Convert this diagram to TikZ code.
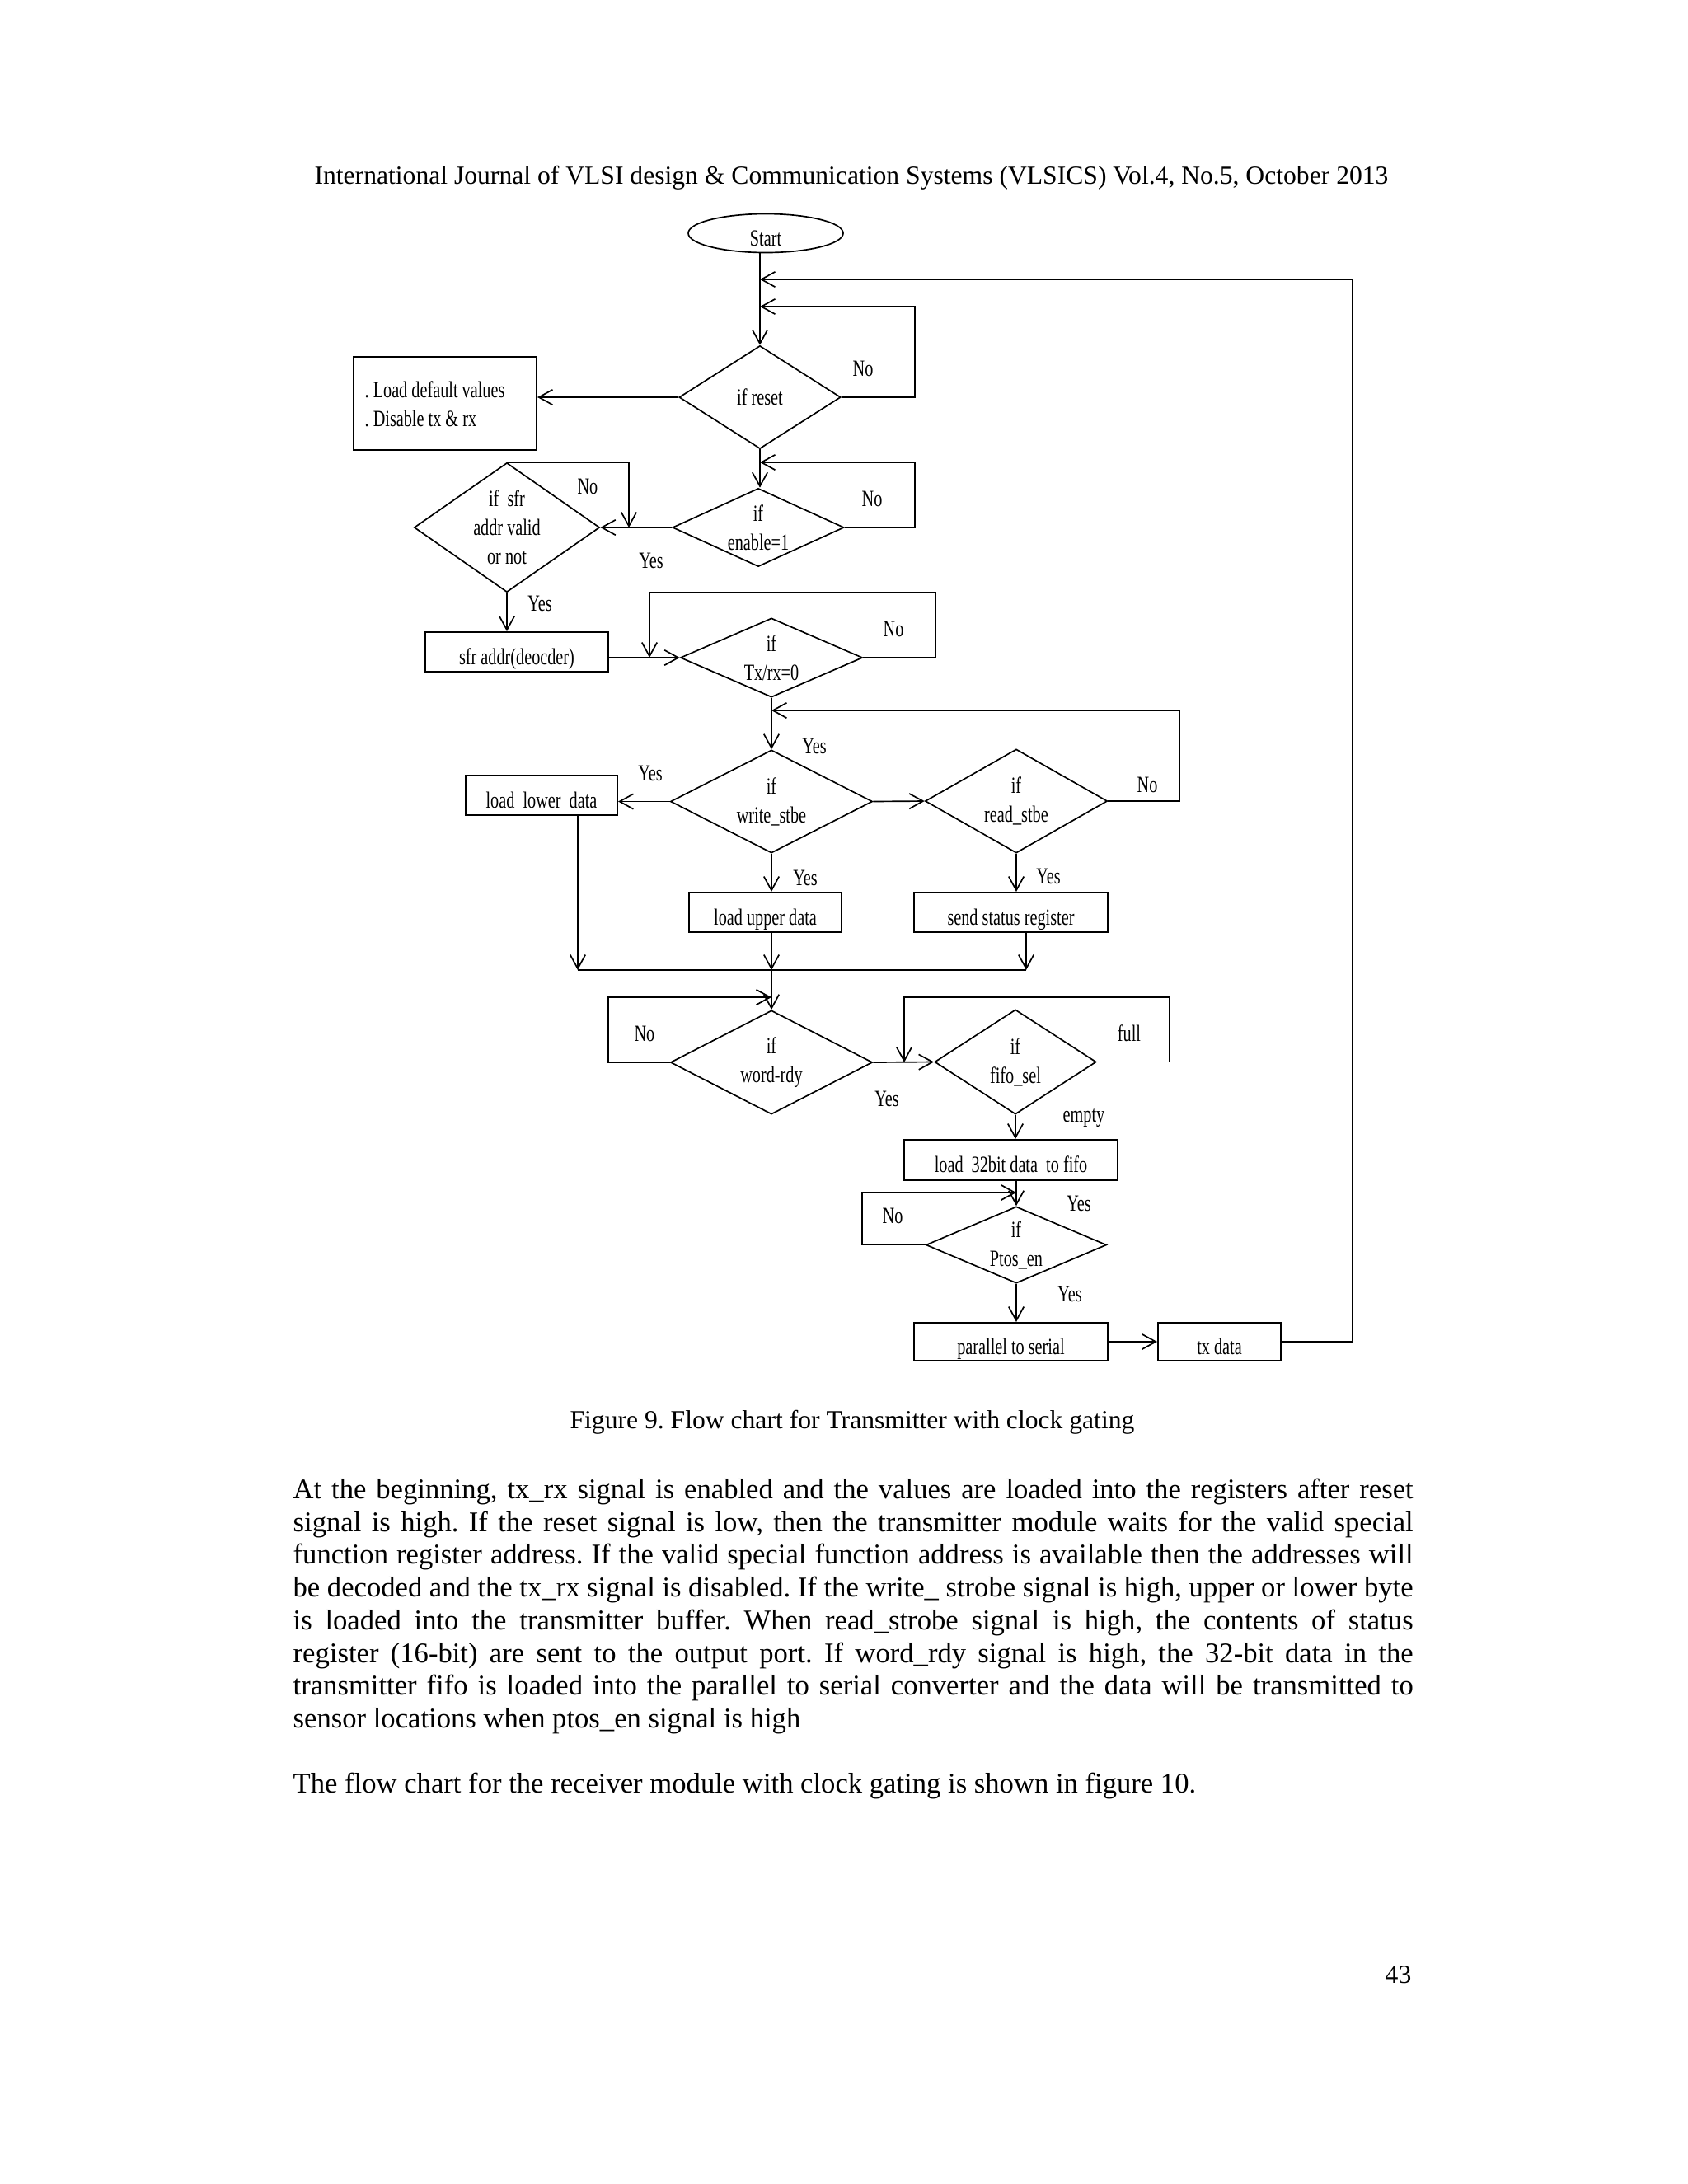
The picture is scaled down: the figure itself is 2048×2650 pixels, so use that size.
\documentclass[tikz,border=0pt]{standalone}
\usepackage{fontspec}
\setmainfont{Liberation Serif}
\newfontfamily\chartfont[FakeStretch=0.72]{Liberation Serif}
\usetikzlibrary{shapes.geometric,arrows.meta}
\frenchspacing
\newcommand\un{0.29883pt}
\tikzset{
  chart/.style={font=\chartfont\fontsize{8.4}{10.5}\selectfont},
  box/.style={draw, line width=0.6pt, inner sep=0pt, chart},
  tbox/.style={box, text height=9pt, text depth=0pt},
  dia/.style={draw, diamond, line width=0.5pt, inner sep=0pt},
  lbl/.style={chart, inner sep=0pt, align=center},
  arr/.style={line width=0.5pt, -{Straight Barb[length=5pt,width=5.5pt]}},
  ln/.style={line width=0.5pt},
  page/.style={inner sep=0pt, font=\fontsize{9.45}{11}\selectfont}
}
\begin{document}
\begin{tikzpicture}[x=\un, y=-\un]
  \useasboundingbox (0,0) rectangle (2048,2650);

  \node[page, anchor=base] (header) at (1033,223) {International Journal of VLSI design \& Communication Systems (VLSICS) Vol.4, No.5, October 2013};

  \node[draw, ellipse, line width=0.5pt, inner sep=0pt, chart, text height=9pt, text depth=0pt,
        minimum width=188*\un, minimum height=47*\un] (start) at (929,283) {Start};

  \node[box, minimum width=222*\un, minimum height=113*\un] (loaddef) at (540,489.5) {};
  \node[lbl, anchor=west, align=left] (loaddeftxt) at (442,490) {. Load default values\\. Disable tx \& rx};
  \node[dia, minimum width=196*\un, minimum height=125*\un] (reset) at (922,482) {};
  \node[lbl] (resettxt) at (reset.center) {if reset};
  \node[dia, minimum width=208*\un, minimum height=95*\un] (enable) at (920,640) {};
  \node[lbl] (enabletxt) at (enable.center) {if\\enable=1};
  \node[dia, minimum width=225*\un, minimum height=157*\un] (sfrvalid) at (615,640) {};
  \node[lbl] (sfrvalidtxt) at (sfrvalid.center) {if\ \ sfr\\addr valid\\or not};
  \node[tbox, minimum width=222*\un, minimum height=48*\un] (sfraddr) at (627,791) {sfr addr(deocder)};
  \node[dia, minimum width=221*\un, minimum height=96*\un] (txrx) at (936,798) {};
  \node[lbl] (txrxtxt) at (txrx.center) {if\\Tx/rx=0};
  \node[dia, minimum width=245*\un, minimum height=125*\un] (write) at (936,972.5) {};
  \node[lbl] (writetxt) at (write.center) {if\\write\_stbe};
  \node[dia, minimum width=221*\un, minimum height=126*\un] (read) at (1233,972) {};
  \node[lbl] (readtxt) at (read.center) {if\\read\_stbe};
  \node[tbox, minimum width=184*\un, minimum height=48*\un] (loadlow) at (657,965) {load~ lower~ data};
  \node[tbox, minimum width=185*\un, minimum height=48*\un] (loadup) at (928.5,1107) {load upper data};
  \node[tbox, minimum width=235*\un, minimum height=48*\un] (status) at (1226.5,1107) {send status register};
  \node[dia, minimum width=245*\un, minimum height=126*\un] (wordrdy) at (936,1289) {};
  \node[lbl] (wordrdytxt) at (wordrdy.center) {if\\word-rdy};
  \node[dia, minimum width=196*\un, minimum height=127*\un] (fifosel) at (1232,1288.5) {};
  \node[lbl] (fifoseltxt) at (fifosel.center) {if\\fifo\_sel};
  \node[tbox, minimum width=259*\un, minimum height=49*\un] (load32) at (1226.5,1407.5) {load~ 32bit data~ to fifo};
  \node[dia, minimum width=219*\un, minimum height=93*\un] (ptosen) at (1233,1510.5) {};
  \node[lbl] (ptosentxt) at (ptosen.center) {if\\Ptos\_en};
  \node[tbox, minimum width=235*\un, minimum height=46*\un] (p2s) at (1226.5,1628) {parallel to serial};
  \node[tbox, minimum width=149*\un, minimum height=46*\un] (txdata) at (1479.5,1628) {tx data};

  \coordinate (loopin) at (922,339);
  \coordinate (resetin) at (922,372);
  \coordinate (enablein) at (922,561);
  \coordinate (sfrin) at (763,640);
  \coordinate (txrxin) at (788,798);
  \coordinate (readin) at (936,862);
  \coordinate (mergeL) at (701,1177);
  \coordinate (mergeM) at (936,1177);
  \coordinate (mergeR) at (1245,1177);
  \coordinate (wordin) at (936,1210);
  \coordinate (fifoin) at (1097,1289);
  \coordinate (ptosin) at (1233,1447);

  \draw[arr] (start.south -| reset.north) -- (reset.north);
  \draw[arr] (reset.east) -- ++(89,0) |- (resetin);
  \draw[arr] (reset.west) -- (reset.west -| loaddef.east);
  \draw[arr] (reset.south) -- (reset.south |- enable.north);
  \draw[arr] (enable.east) -- ++(85,0) |- (enablein);
  \draw[arr] (enable.west) -- (sfrvalid.east);
  \draw[arr] (sfrvalid.north) -| (sfrin);
  \draw[arr] (sfrvalid.south) -- (sfrvalid.south |- sfraddr.north);
  \draw[arr] (sfraddr.east |- txrx.west) -- (txrx.west);
  \draw[arr] (txrx.east) -- ++(88,0) |- (788,719) -- (txrxin);
  \draw[arr] (txrx.south) -- (write.north);
  \draw[arr] (read.east) -- ++(87,0) |- (readin);
  \draw[arr] (write.west) -- (write.west -| loadlow.east);
  \draw[arr] (write.east) -- (read.west);
  \draw[arr] (write.south) -- (write.south |- loadup.north);
  \draw[arr] (read.south) -- (read.south |- status.north);
  \draw[arr] (loadlow.south -| mergeL) -- (mergeL);
  \draw[arr] (loadup.south -| mergeM) -- (mergeM);
  \draw[arr] (status.south -| mergeR) -- (mergeR);
  \draw[ln] (mergeL) -- (mergeR);
  \draw[arr] (mergeM) -- (wordrdy.north);
  \draw[arr] (wordrdy.west) -- ++(-75,0) |- (wordin);
  \draw[arr] (wordrdy.east) -- (fifosel.west);
  \draw[arr] (fifosel.east) -- ++(88,0) |- (1097,1210) -- (fifoin);
  \draw[arr] (fifosel.south) -- (fifosel.south |- load32.north);
  \draw[arr] (load32.south -| ptosen.north) -- (ptosen.north);
  \draw[arr] (ptosen.west) -- ++(-77,0) |- (ptosin);
  \draw[arr] (ptosen.south) -- (ptosen.south |- p2s.north);
  \draw[arr] (p2s.east) -- (txdata.west);
  \draw[arr] (txdata.east) -- ++(86,0) |- (loopin);

  \node[lbl] (noreset) at (1047,447) {No};
  \node[lbl] (noenable) at (1058,605) {No};
  \node[lbl] (nosfr) at (713,590) {No};
  \node[lbl] (yesenable) at (790,680) {Yes};
  \node[lbl] (yessfr) at (655,732) {Yes};
  \node[lbl] (notxrx) at (1084,763) {No};
  \node[lbl] (yestxrx) at (988,905) {Yes};
  \node[lbl] (yeslow) at (789,938) {Yes};
  \node[lbl] (noread) at (1392,952) {No};
  \node[lbl] (yeswrite) at (977,1065) {Yes};
  \node[lbl] (yesread) at (1272,1063) {Yes};
  \node[lbl] (noword) at (782,1254) {No};
  \node[lbl] (yesword) at (1076,1333) {Yes};
  \node[lbl] (full) at (1370,1254) {full};
  \node[lbl] (empty) at (1315,1357) {empty};
  \node[lbl] (yesload) at (1309,1460) {Yes};
  \node[lbl] (noptos) at (1083,1475) {No};
  \node[lbl] (yesptos) at (1298,1570) {Yes};

  \node[page, anchor=base] (caption) at (1034,1733.5) {Figure 9. Flow chart for Transmitter with clock gating};

  \node[anchor=north west, inner sep=0pt, text width=406.1pt, align=justify,
        font=\fontsize{10.35}{11.88}\selectfont] (body) at (355,1793.3) {At the beginning, tx\_rx signal is enabled and the values are loaded into the registers after reset\linebreak
    signal is high. If the reset signal is low, then the transmitter module waits for the valid special\linebreak
    function register address. If the valid special function address is available then the addresses will\linebreak
    be decoded and the tx\_rx signal is disabled. If the write\_ strobe signal is high, upper or lower byte\linebreak
    is loaded into the transmitter buffer. When read\_strobe signal is high, the contents of status\linebreak
    register (16-bit) are sent to the output port. If word\_rdy signal is high, the 32-bit data in the\linebreak
    transmitter fifo is loaded into the parallel to serial converter and the data will be transmitted to\linebreak
    sensor locations when ptos\_en signal is high};
  \node[anchor=base west, inner sep=0pt, font=\fontsize{10.35}{11.88}\selectfont] (body2) at (355,2175) {The flow chart for the receiver module with clock gating is shown in figure 10.};

  \node[page, anchor=base east] (pagenum) at (1713,2406) {43};
\end{tikzpicture}
\end{document}
